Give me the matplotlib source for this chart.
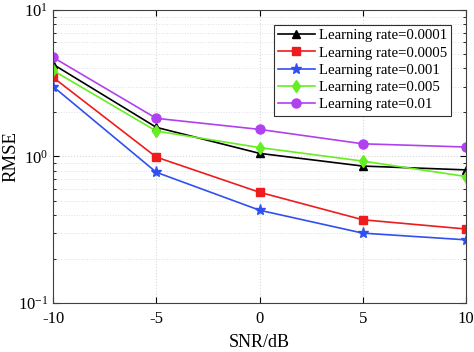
import matplotlib
matplotlib.use("Agg")
import matplotlib.pyplot as plt
from matplotlib.ticker import LogLocator, NullFormatter

snr = [-10, -5, 0, 5, 10]
labels = ["Learning rate=0.0001", "Learning rate=0.0005", "Learning rate=0.001",
          "Learning rate=0.005", "Learning rate=0.01"]
lr_0001 = [4.25, 1.58, 1.05, 0.86, 0.81]
lr_0005 = [3.46, 0.99, 0.57, 0.37, 0.32]
lr_001 = [3.0, 0.78, 0.43, 0.30, 0.27]
lr_005 = [3.86, 1.49, 1.15, 0.93, 0.73]
lr_01 = [4.74, 1.82, 1.53, 1.22, 1.16]

series = [lr_0001, lr_0005, lr_001, lr_005, lr_01]
colors = ["#000000", "#ee1c1c", "#3050f0", "#66ee22", "#b040f0"]
markers = ["^", "s", "*", "d", "o"]
msizes = [6, 5.5, 8, 6, 6.5]

plt.rcParams['font.family'] = ['Liberation Serif', 'DejaVu Serif']
fig = plt.figure(figsize=(4.74, 3.52), dpi=100)
ax = fig.add_axes([0.112, 0.139, 0.871, 0.833])

for y, c, m, ms, lab in zip(series, colors, markers, msizes, labels):
    ax.plot(snr, y, color=c, marker=m, markersize=ms, linewidth=1.2, label=lab)

ax.set_yscale('log')
ax.set_ylim(0.1, 10)
ax.set_xlim(-10, 10)
ax.set_xticks(snr)
ax.set_xticklabels([str(v) for v in snr])
ax.yaxis.set_minor_locator(LogLocator(base=10, subs=range(2, 10)))
ax.yaxis.set_minor_formatter(NullFormatter())
ax.grid(True, which='major', color='#d8d8d8', linestyle=':', linewidth=0.8)
ax.grid(True, which='minor', axis='y', color='#e0e0e0', linestyle=':', linewidth=0.7)
ax.tick_params(direction='in', which='both', top=True, right=True, labelsize=12)
ax.tick_params(which='major', length=4)
ax.tick_params(axis='x', which='major', pad=6)
ax.tick_params(which='minor', length=2)
for s in ax.spines.values():
    s.set_color('#404040')
    s.set_linewidth(0.8)

ax.set_xlabel('SNR/dB', fontsize=13, labelpad=5)
ax.set_ylabel('RMSE', fontsize=13.5)
ax.yaxis.set_label_coords(-0.082, 0.5)

leg = ax.legend(loc='upper right', fontsize=10.6, frameon=True, fancybox=False,
                edgecolor='#303030', framealpha=1, borderpad=0.3, labelspacing=0.27,
                handlelength=2.5, handletextpad=0.25, borderaxespad=1.0)
leg.get_frame().set_linewidth(0.8)

fig.savefig('out.png', dpi=100)
